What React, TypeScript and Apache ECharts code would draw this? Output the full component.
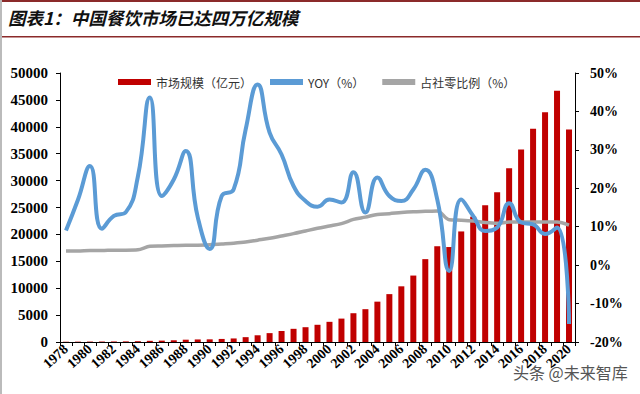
import React, { useEffect, useRef } from 'react';
import * as echarts from 'echarts';

const years = ['1978','1979','1980','1981','1982','1983','1984','1985','1986','1987','1988','1989','1990','1991','1992','1993','1994','1995','1996','1997','1998','1999','2000','2001','2002','2003','2004','2005','2006','2007','2008','2009','2010','2011','2012','2013','2014','2015','2016','2017','2018','2019','2020'];

// 市场规模（亿元）
const marketSize = [55, 64, 80, 88, 101, 116, 150, 219, 257, 320, 428, 476, 494, 570, 660, 900, 1250, 1650, 2050, 2450, 2750, 3200, 3750, 4350, 5350, 6100, 7500, 8900, 10350, 12350, 15400, 17800, 17650, 20550, 23300, 25400, 27850, 32300, 35800, 39650, 42700, 46700, 39500];

// YOY（%）
const yoy = [9, 17, 25.8, 9.5, 12.8, 13.8, 23, 43.6, 18, 22.3, 29.7, 12.5, 4.2, 18, 19.7, 35.3, 47, 34.5, 28.8, 20.6, 16.7, 15.2, 17.1, 16.3, 24.2, 13.7, 22.8, 18, 16.7, 19.7, 24.8, 17.1, -1.5, 17.1, 12.8, 8.9, 9.8, 16.1, 11.1, 10.6, 8.1, 9.8, -15.3];

// 占社零比例（%）
const retailShare = [3.7, 3.7, 3.8, 3.8, 3.9, 3.9, 4.0, 4.9, 5.0, 5.1, 5.2, 5.2, 5.3, 5.5, 5.7, 6.0, 6.5, 7.0, 7.6, 8.2, 8.9, 9.6, 10.2, 10.8, 11.9, 12.5, 13.2, 13.4, 13.7, 13.9, 14.0, 14.1, 11.8, 11.7, 11.5, 11.1, 10.9, 11.2, 11.2, 11.2, 11.2, 11.2, 10.4];

const leftTicks = { min: 0, max: 50000, interval: 5000 };
const rightTicks = { min: -20, max: 50, interval: 10 };

const titleText = '图表1：中国餐饮市场已达四万亿规模';
const watermarkText = '头条 @未来智库';

export default function App() {
  const ref = useRef<HTMLDivElement>(null);
  useEffect(() => {
    document.body.style.margin = '0';
    const chart = echarts.init(ref.current!, null, { renderer: 'svg' });
    const axisFont = { fontFamily: '"Liberation Serif", "Times New Roman", serif', fontWeight: 'bold' as const, fontSize: 14, color: '#000' };
    chart.setOption({
      animation: false,
      backgroundColor: '#fff',
      grid: { left: 60, right: 65, top: 73, bottom: 52, containLabel: false },
      legend: {
        left: 113,
        top: 71,
        itemWidth: 33,
        itemHeight: 6,
        itemGap: 18,
        textStyle: { fontFamily: '"Noto Sans CJK SC", sans-serif', fontSize: 12, color: '#333' },
        data: [
          { name: '市场规模（亿元）', icon: 'rect' },
          { name: 'YOY（%）', icon: 'rect' },
          { name: '占社零比例（%）', icon: 'rect' },
        ],
      },
      xAxis: {
        type: 'category',
        data: years,
        boundaryGap: true,
        axisLine: { show: true, lineStyle: { color: '#000', width: 1 } },
        axisTick: { show: true, interval: 0, length: 4, lineStyle: { color: '#000' } },
        axisLabel: { ...axisFont, interval: 1, rotate: 42, margin: 5 },
      },
      yAxis: [
        {
          type: 'value',
          position: 'left',
          ...leftTicks,
          splitLine: { show: false },
          axisLine: { show: true, lineStyle: { color: '#000' } },
          axisTick: { show: true, length: 4, lineStyle: { color: '#000' } },
          axisLabel: { ...axisFont, fontSize: 15, margin: 12, formatter: (v: number) => String(v) },
        },
        {
          type: 'value',
          position: 'right',
          ...rightTicks,
          splitLine: { show: false },
          axisLine: { show: true, lineStyle: { color: '#000' } },
          axisTick: { show: true, length: 4, lineStyle: { color: '#000' } },
          axisLabel: { ...axisFont, margin: 15, formatter: '{value}%' },
        },
      ],
      series: [
        {
          name: '市场规模（亿元）',
          type: 'bar',
          data: marketSize,
          barWidth: 6,
          itemStyle: { color: '#C00000' },
          z: 1,
        },
        {
          name: '占社零比例（%）',
          type: 'line',
          yAxisIndex: 1,
          data: retailShare,
          smooth: 0.3,
          showSymbol: false,
          symbol: 'none',
          lineStyle: { color: '#A5A5A5', width: 3.5 },
          itemStyle: { color: '#A5A5A5' },
          z: 2,
        },
        {
          name: 'YOY（%）',
          type: 'line',
          yAxisIndex: 1,
          data: yoy,
          smooth: 0.5,
          showSymbol: false,
          symbol: 'none',
          lineStyle: { color: '#5B9BD5', width: 4 },
          itemStyle: { color: '#5B9BD5' },
          z: 3,
        },
      ],
      graphic: [
        { type: 'rect', left: 0, top: 0, shape: { width: 640, height: 2 }, style: { fill: '#8B2A2A' }, silent: true },
        { type: 'rect', left: 0, top: 36, shape: { width: 640, height: 1.5 }, style: { fill: '#8B2A2A' }, silent: true },
        { type: 'rect', left: 0, top: 0, shape: { width: 2, height: 394 }, style: { fill: '#BBBBBB' }, silent: true },
        {
          type: 'text',
          left: 8,
          top: 9,
          style: {
            text: titleText,
            fontFamily: '"Noto Sans CJK SC", sans-serif',
            fontSize: 17.5,
            fontWeight: 'bold',
            fontStyle: 'italic',
            fill: '#111',
          },
        },
        {
          type: 'text',
          left: 512,
          top: 363,
          style: {
            text: watermarkText,
            fontFamily: '"Noto Sans CJK SC", sans-serif',
            fontSize: 16,
            fill: '#555',
            stroke: '#fff',
            lineWidth: 2,
          },
          z: 100,
        },
      ],
    });
    return () => chart.dispose();
  }, []);
  return <div ref={ref} style={{ width: 640, height: 394 }} />;
}
